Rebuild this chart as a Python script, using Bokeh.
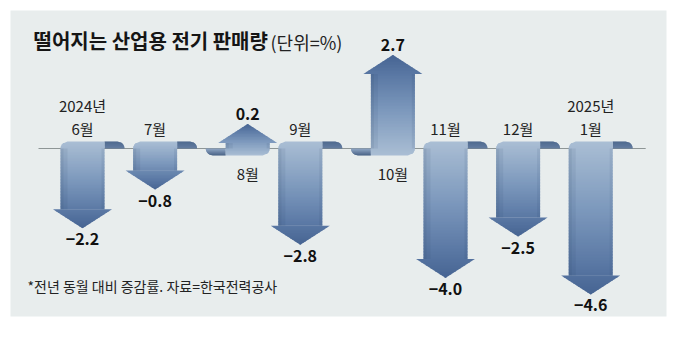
import numpy as np
from bokeh.plotting import figure
from bokeh.models import ColumnDataSource, Range1d
from bokeh.core.properties import value
from bokeh.embed import file_html
from bokeh.resources import INLINE

# ---------------- data ----------------
months = ["6월", "7월", "8월", "9월", "10월", "11월", "12월", "1월"]
years = ["2024년", "", "", "", "", "", "", "2025년"]
values = [-2.2, -0.8, 0.2, -2.8, 2.7, -4.0, -2.5, -4.6]
value_labels = ["−2.2", "−0.8", "0.2", "−2.8", "2.7", "−4.0", "−2.5", "−4.6"]
title_main = "떨어지는 산업용 전기 판매량"
title_unit = "(단위=%)"
footnote = "*전년 동월 대비 증감률. 자료=한국전력공사"

# ---------------- layout (pixels) ----------------
PLOT_W, PLOT_H = 656, 306
BL, BT, BR, BB = 10, 10, 2, 35
W, H = BL + PLOT_W + BR, BT + PLOT_H + BB
KX = 72.6      # px per month slot
KY = 27.6      # px per percentage point
X0_PX = 82     # centre of first slot inside the plot area
BASE_PX = 138  # baseline from top of plot area

x_start = -X0_PX / KX
x_end = x_start + PLOT_W / KX
y_end = BASE_PX / KY
y_start = y_end - PLOT_H / KY


def dx(px):
    return px / KX


def dy(px):
    return px / KY


FONT = "Noto Sans CJK KR"
PANEL = "#e8eded"

STOPS = [(0.0, (170, 190, 212)), (0.45, (124, 152, 188)),
         (0.8, (90, 120, 164)), (1.0, (70, 100, 146))]


def grad(t):
    t = min(max(t, 0.0), 1.0)
    for (t0, c0), (t1, c1) in zip(STOPS[:-1], STOPS[1:]):
        if t <= t1:
            f = (t - t0) / (t1 - t0) if t1 > t0 else 0
            return "#%02x%02x%02x" % tuple(int(round(a + (b - a) * f)) for a, b in zip(c0, c1))
    return "#%02x%02x%02x" % STOPS[-1][1]


def mix(c0, c1, f):
    return "#%02x%02x%02x" % tuple(int(round(a + (b - a) * f)) for a, b in zip(c0, c1))


p = figure(width=W, height=H, output_backend="svg", toolbar_location=None,
           x_range=Range1d(x_start, x_end), y_range=Range1d(y_start, y_end),
           x_axis_location=None, y_axis_location=None,
           min_border_left=BL, min_border_top=BT, min_border_right=BR,
           min_border_bottom=BB,
           background_fill_color=PANEL, border_fill_color="white")
p.outline_line_color = None
p.grid.visible = False

# baseline
n = len(values)
p.segment(x0=[0 + dx(-54)], y0=[0], x1=[n - 1 + dx(45)], y1=[0],
          line_color="#8e9696", line_width=1)

RIB = 7.0      # ribbon overshoot above/below baseline (px)
HEAD = 19.0    # arrow head length (px)
HHW = 29.5     # arrow head half width (px)
R = 7.0        # corner radius (px)

xs, ys, cols = [], [], []
cxs, cys, ccols = [], [], []
exs, eys, ecols, ealph = [], [], [], []


def inset(s):
    if s >= R:
        return 0.0
    return R - np.sqrt(max(R * R - (R - s) ** 2, 0.0))


for i, v in enumerate(values):
    d = 1 if v > 0 else -1
    if d < 0:
        sl, sr = -32.0, 12.0
    else:
        sl, sr = -12.0, 32.0
    sc = (sl + sr) / 2
    S = RIB + abs(v) * KY
    L = S + HEAD

    def yd(s):
        return d * (s - RIB) / KY

    # ---- curl (back of the ribbon) ----
    if d < 0:
        c0, c1 = (58, 88, 130), (80, 108, 148)
        for k in range(7):
            a, b = k, min(k + 1.3, RIB)
            ya, yb = RIB - a, RIB - b
            xr_top = 32 - inset(a)
            xr_bot = 32 - inset(b)
            cxs.append([i + dx(12), i + dx(xr_top), i + dx(xr_bot), i + dx(12)])
            cys.append([dy(ya), dy(ya), dy(yb), dy(yb)])
            ccols.append(mix(c0, c1, k / 6))
    else:
        c0, c1 = (128, 154, 188), (56, 84, 124)
        for k in range(7):
            a, b = k, min(k + 1.3, RIB)
            ya, yb = -a, -b
            da, db = RIB - a, RIB - b
            xl_a = -32 + inset(da)
            xl_b = -32 + inset(db)
            cxs.append([i + dx(xl_a), i + dx(-12), i + dx(-12), i + dx(xl_b)])
            cys.append([dy(ya), dy(ya), dy(yb), dy(yb)])
            ccols.append(mix(c0, c1, k / 6))

    # ---- shaft ----
    edges = list(np.arange(0, S, 1.5)) + [S]
    for a, b in zip(edges[:-1], edges[1:]):
        b2 = min(b + 0.7, S)
        if d < 0:
            xl_a, xl_b = sl + inset(a), sl + inset(b2)
            xr_a, xr_b = sr, sr
        else:
            xl_a, xl_b = sl, sl
            xr_a, xr_b = sr - inset(a), sr - inset(b2)
        xs.append([i + dx(xl_a), i + dx(xr_a), i + dx(xr_b), i + dx(xl_b)])
        ys.append([yd(a), yd(a), yd(b2), yd(b2)])
        cols.append(grad(((a + b) / 2) / L))

    # darker side edges of the shaft (cylindrical shading)
    if S > R + 1:
        for off0, off1, al in [(0, 3, 0.16), (3, 7, 0.08)]:
            exs.append([i + dx(sl + off0), i + dx(sl + off1), i + dx(sl + off1), i + dx(sl + off0)])
            eys.append([yd(R), yd(R), yd(S), yd(S)])
            ecols.append("#1c3658")
            ealph.append(al)
        exs.append([i + dx(sr - 3), i + dx(sr), i + dx(sr), i + dx(sr - 3)])
        eys.append([yd(R), yd(R), yd(S), yd(S)])
        ecols.append("#1c3658")
        ealph.append(0.08)

    # ---- head ----
    hedges = list(np.arange(S, L, 1.5)) + [L]
    for a, b in zip(hedges[:-1], hedges[1:]):
        b2 = min(b + 0.7, L)
        hwa = HHW * (1 - (a - S) / HEAD)
        hwb = HHW * (1 - (b2 - S) / HEAD)
        xs.append([i + dx(sc - hwa), i + dx(sc + hwa), i + dx(sc + hwb), i + dx(sc - hwb)])
        ys.append([yd(a), yd(a), yd(b2), yd(b2)])
        cols.append(grad(((a + b) / 2) / L))

p.patches(xs=cxs, ys=cys, fill_color=ccols, line_color=None)
p.patches(xs=xs, ys=ys, fill_color=cols, line_color=None)
p.patches(xs=exs, ys=eys, fill_color=ecols, fill_alpha=ealph, line_color=None)

# ---------------- texts ----------------
centers, tips, moffs, yoffs, voffs = [], [], [], [], []
for i, v in enumerate(values):
    d = 1 if v > 0 else -1
    sc = -10 if d < 0 else 10
    centers.append(i + dx(sc))
    tips.append(v + d * dy(HEAD))
    moffs.append(-20 if d < 0 else 25)
    yoffs.append(-43)
    voffs.append(11 if d < 0 else -10)

src = ColumnDataSource(dict(x=centers, zero=[0] * n, tip=tips, month=months,
                            year=years, vlab=value_labels, moff=moffs,
                            yoff=yoffs, voff=voffs))

p.text(x="x", y="zero", text="month", source=src, y_offset="moff",
       text_font=value(FONT), text_font_size="15px", text_color="#222222",
       text_align="center", text_baseline="middle")
p.text(x="x", y="zero", text="year", source=src, y_offset="yoff",
       text_font=value(FONT), text_font_size="15px", text_color="#222222",
       text_align="center", text_baseline="middle")
p.text(x="x", y="tip", text="vlab", source=src, y_offset="voff",
       text_font=value(FONT), text_font_size="16px", text_font_style="bold",
       text_color="#111111", text_align="center", text_baseline="middle")

# title & footnote
p.text(x=[x_start + dx(23)], y=[y_end - dy(30)], text=[title_main],
       text_font=value(FONT), text_font_size="20px", text_font_style="bold",
       text_color="#151515", text_align="left", text_baseline="middle")
p.text(x=[x_start + dx(260)], y=[y_end - dy(31)], text=[title_unit],
       text_font=value(FONT), text_font_size="18px",
       text_color="#222222", text_align="left", text_baseline="middle")
p.text(x=[x_start + dx(17)], y=[y_end - dy(275)], text=[footnote],
       text_font=value(FONT), text_font_size="14px",
       text_color="#222222", text_align="left", text_baseline="middle")

open("out.html", "w").write(file_html(p, INLINE))
